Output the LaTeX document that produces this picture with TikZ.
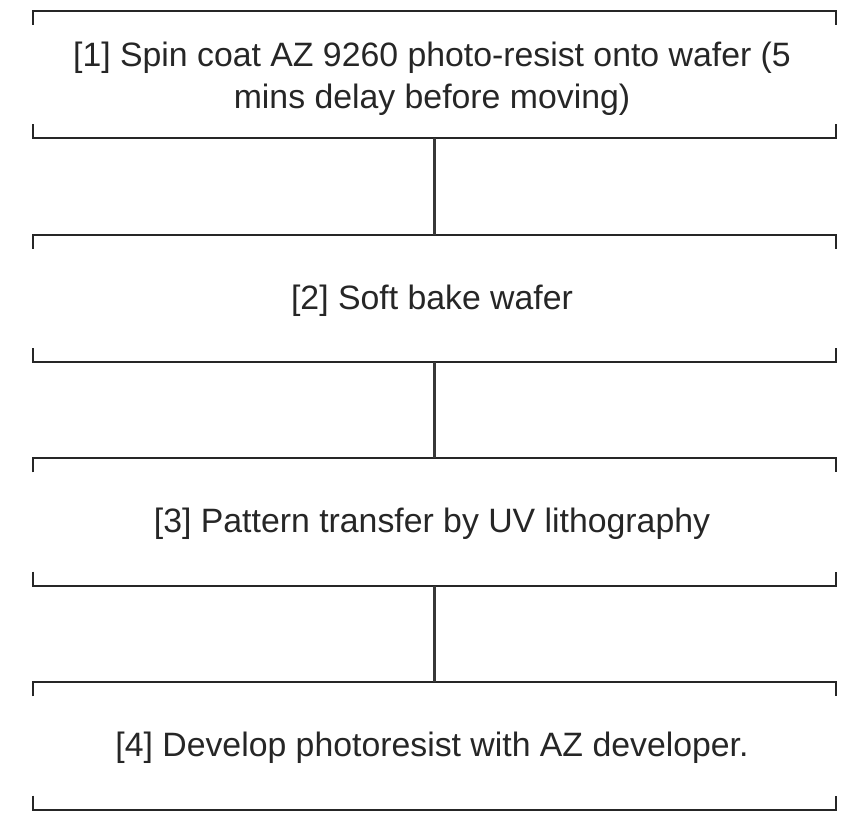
\documentclass[tikz,border=0pt]{standalone}
\usepackage{fontspec}
\setmainfont{Liberation Sans}
\begin{document}
\begin{tikzpicture}[x=1pt,y=-1pt,
  stepbox/.style={inner sep=0pt, minimum width=803pt, minimum height=127pt},
  steptext/.style={inner sep=0pt, align=center,
    font=\fontsize{33.8}{42}\selectfont, text=black!85},
  boxline/.style={line width=2.3pt, draw=black!85},
  link/.style={line width=2.2pt, draw=black!78}]
\useasboundingbox (0,0) rectangle (854,824);
\node[stepbox] (b1) at (434.5,74.5) {};
\node[stepbox] (b2) at (434.5,298.5) {};
\node[stepbox] (b3) at (434.5,522) {};
\node[stepbox] (b4) at (434.5,746) {};
\node[steptext] (t1) at ([xshift=-2.5pt,yshift=-4pt]b1.center) {[1] Spin coat AZ 9260 photo-resist onto wafer (5\\mins delay before moving)};
\node[steptext] (t2) at ([xshift=-2.5pt,yshift=-2pt]b2.center) {[2] Soft bake wafer};
\node[steptext] (t3) at ([xshift=-2.5pt,yshift=-2pt]b3.center) {[3] Pattern transfer by UV lithography};
\node[steptext] (t4) at ([xshift=-2.5pt,yshift=-2pt]b4.center) {[4] Develop photoresist with AZ developer.};
\foreach \b in {b1,b2,b3,b4}{
  \draw[boxline] ([yshift=-14pt]\b.north west) -- (\b.north west) -- (\b.north east) -- ([yshift=-14pt]\b.north east);
  \draw[boxline] ([yshift=14pt]\b.south west) -- (\b.south west) -- (\b.south east) -- ([yshift=14pt]\b.south east);
}
\draw[link] (b1.south) -- (b2.north);
\draw[link] (b2.south) -- (b3.north);
\draw[link] (b3.south) -- (b4.north);
\end{tikzpicture}
\end{document}
